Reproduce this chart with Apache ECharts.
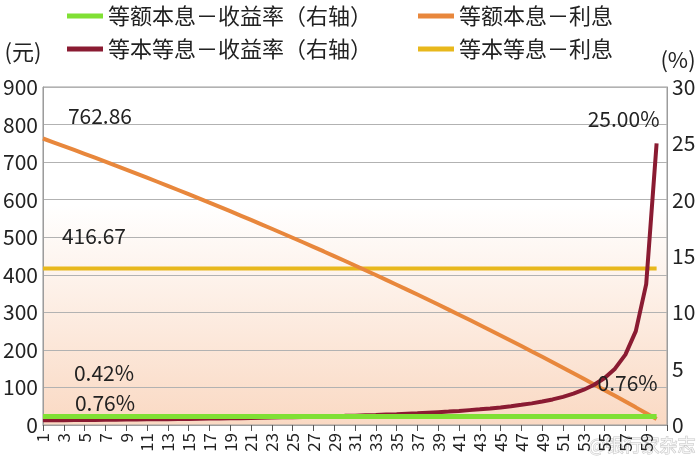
<!DOCTYPE html>
<html>
<head>
<meta charset="utf-8">
<script src="https://cdn.jsdelivr.net/npm/echarts@6/dist/echarts.min.js"></script>
<style>
html,body{margin:0;padding:0;background:#fff;}
#c{width:700px;height:461px;}
</style>
</head>
<body>
<div id="c"></div>
<script>
// Periods (months)
var periods = ['1','2','3','4','5','6','7','8','9','10','11','12','13','14','15','16','17','18','19','20',
  '21','22','23','24','25','26','27','28','29','30','31','32','33','34','35','36','37','38','39','40',
  '41','42','43','44','45','46','47','48','49','50','51','52','53','54','55','56','57','58','59','60','61'];

// 等额本息-利息 (元)
var interestEqualPayment = [762.86,752.79,742.64,732.41,722.10,711.72,701.26,690.71,680.09,669.38,
  658.60,647.73,636.78,625.74,614.62,603.42,592.13,580.75,569.29,557.74,
  546.10,534.37,522.56,510.65,498.65,486.56,474.38,462.11,449.74,437.28,
  424.72,412.07,399.32,386.47,373.53,360.48,347.34,334.10,320.75,307.31,
  293.76,280.10,266.35,252.48,238.52,224.44,210.26,195.97,181.57,167.06,
  152.44,137.71,122.87,107.91,92.84,77.66,62.35,46.94,31.40,15.75];

// 等本等息-利息 (元)
var interestFlat = [416.67,416.67,416.67,416.67,416.67,416.67,416.67,416.67,416.67,416.67,
  416.67,416.67,416.67,416.67,416.67,416.67,416.67,416.67,416.67,416.67,
  416.67,416.67,416.67,416.67,416.67,416.67,416.67,416.67,416.67,416.67,
  416.67,416.67,416.67,416.67,416.67,416.67,416.67,416.67,416.67,416.67,
  416.67,416.67,416.67,416.67,416.67,416.67,416.67,416.67,416.67,416.67,
  416.67,416.67,416.67,416.67,416.67,416.67,416.67,416.67,416.67,416.67];

// 等额本息-收益率 (%)
var yieldEqualPayment = [0.76,0.76,0.76,0.76,0.76,0.76,0.76,0.76,0.76,0.76,
  0.76,0.76,0.76,0.76,0.76,0.76,0.76,0.76,0.76,0.76,
  0.76,0.76,0.76,0.76,0.76,0.76,0.76,0.76,0.76,0.76,
  0.76,0.76,0.76,0.76,0.76,0.76,0.76,0.76,0.76,0.76,
  0.76,0.76,0.76,0.76,0.76,0.76,0.76,0.76,0.76,0.76,
  0.76,0.76,0.76,0.76,0.76,0.76,0.76,0.76,0.76,0.76];

// 等本等息-收益率 (%)
var yieldFlat = [0.42,0.42,0.43,0.44,0.45,0.45,0.46,0.47,0.48,0.49,
  0.50,0.51,0.52,0.53,0.54,0.56,0.57,0.58,0.60,0.61,
  0.63,0.64,0.66,0.68,0.69,0.71,0.74,0.76,0.78,0.81,
  0.83,0.86,0.89,0.93,0.96,1.00,1.04,1.09,1.14,1.19,
  1.25,1.32,1.39,1.47,1.56,1.67,1.79,1.92,2.08,2.27,
  2.50,2.78,3.13,3.57,4.17,5.00,6.25,8.33,12.50,25.00];

var FONT = '"Noto Sans CJK SC", "Noto Sans", sans-serif';
var TXT = '#222222';

var chart = echarts.init(document.getElementById('c'), null, {renderer: 'canvas'});

function mp(coord, text, offset) {
  return {
    coord: coord,
    symbol: 'circle',
    symbolSize: 1,
    itemStyle: {color: 'rgba(0,0,0,0)'},
    label: {show: true, position: 'inside', formatter: text, offset: offset,
      color: TXT, fontSize: 21, fontFamily: FONT}
  };
}

var option = {
  animation: false,
  backgroundColor: '#ffffff',
  textStyle: {fontFamily: FONT},
  legend: [
    {
      orient: 'vertical', left: 62, top: 0, itemGap: 11,
      itemWidth: 36, itemHeight: 5, icon: 'rect',
      textStyle: {fontSize: 22, color: TXT, fontFamily: FONT},
      data: ['等额本息－收益率（右轴）', '等本等息－收益率（右轴）']
    },
    {
      orient: 'vertical', left: 413, top: 0, itemGap: 11,
      itemWidth: 36, itemHeight: 5, icon: 'rect',
      textStyle: {fontSize: 22, color: TXT, fontFamily: FONT},
      data: ['等额本息－利息', '等本等息－利息']
    }
  ],
  grid: {
    left: 41, right: 33, top: 87, bottom: 36,
    show: true,
    borderColor: '#9c9c9c', borderWidth: 1,
    backgroundColor: {
      type: 'linear', x: 0, y: 0, x2: 0, y2: 1,
      colorStops: [
        {offset: 0, color: '#ffffff'},
        {offset: 0.35, color: '#ffffff'},
        {offset: 1, color: '#fad9c3'}
      ]
    }
  },
  xAxis: {
    type: 'category',
    data: periods,
    boundaryGap: false,
    axisLine: {show: true, lineStyle: {color: '#9c9c9c', width: 1}},
    axisTick: {show: true, interval: 1, length: 6, lineStyle: {color: '#555'}},
    axisLabel: {
      interval: 1, rotate: 90, margin: 8,
      fontSize: 17, color: TXT, fontFamily: FONT,
      formatter: function (v) { return v === '61' ? '' : v; }
    },
    splitLine: {show: false}
  },
  yAxis: [
    {
      type: 'value', min: 0, max: 900, interval: 100,
      name: '(元)', nameLocation: 'end', nameGap: 35,
      nameTextStyle: {fontSize: 22, color: TXT, fontFamily: FONT, align: 'center',
        verticalAlign: 'middle', padding: [0, 40, 0, 0]},
      axisLine: {show: true, lineStyle: {color: '#9c9c9c'}},
      axisTick: {show: false},
      axisLabel: {fontSize: 21, color: TXT, margin: 5, fontFamily: FONT},
      splitLine: {show: true, lineStyle: {color: '#b2b2b2', width: 1}}
    },
    {
      type: 'value', min: 0, max: 30, interval: 5,
      name: '(%)', nameLocation: 'end', nameGap: 27,
      nameTextStyle: {fontSize: 22, color: TXT, fontFamily: FONT, align: 'center',
        verticalAlign: 'middle', padding: [0, 0, 0, 22]},
      axisLine: {show: true, lineStyle: {color: '#9c9c9c'}},
      axisTick: {show: false},
      axisLabel: {fontSize: 21, color: TXT, margin: 5, fontFamily: FONT},
      splitLine: {show: false}
    }
  ],
  series: [
    {
      name: '等本等息－利息', type: 'line', yAxisIndex: 0, data: interestFlat,
      showSymbol: false, symbol: 'none',
      lineStyle: {color: '#e8b81c', width: 4}, itemStyle: {color: '#e8b81c'},
      markPoint: {data: [mp(['1', 416.67], '416.67', [51, -33])]}
    },
    {
      name: '等额本息－利息', type: 'line', yAxisIndex: 0, data: interestEqualPayment,
      showSymbol: false, symbol: 'none',
      lineStyle: {color: '#e8873c', width: 4}, itemStyle: {color: '#e8873c'},
      markPoint: {data: [mp(['1', 762.86], '762.86', [57, -22])]}
    },
    {
      name: '等本等息－收益率（右轴）', type: 'line', yAxisIndex: 1, data: yieldFlat,
      showSymbol: false, symbol: 'none',
      lineStyle: {color: '#8a1b32', width: 4}, itemStyle: {color: '#8a1b32'},
      markPoint: {data: [
        mp(['1', 0.42], '0.42%', [61, -47]),
        mp(['60', 25], '25.00%', [-33, -24])
      ]}
    },
    {
      name: '等额本息－收益率（右轴）', type: 'line', yAxisIndex: 1, data: yieldEqualPayment,
      showSymbol: false, symbol: 'none',
      lineStyle: {color: '#80e034', width: 5}, itemStyle: {color: '#80e034'},
      markPoint: {data: [
        mp(['1', 0.76], '0.76%', [62, -13]),
        mp(['60', 0.76], '0.76%', [-29, -33])
      ]}
    }
  ],
  graphic: [
    {
      type: 'text', right: 4, bottom: 6, silent: true,
      style: {text: '@银行家杂志', fontSize: 18, fontFamily: FONT,
        fill: 'rgba(255,255,255,0.75)', stroke: 'rgba(150,150,150,0.55)', lineWidth: 1}
    }
  ]
};

chart.setOption(option);
</script>
</body>
</html>
